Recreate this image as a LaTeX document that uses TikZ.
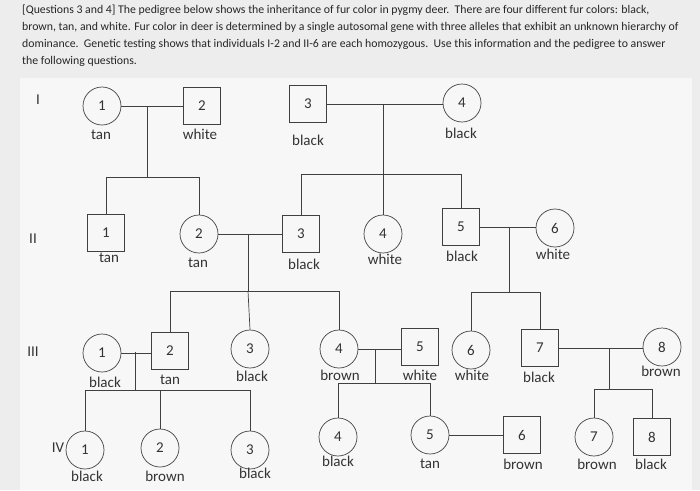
\documentclass[tikz,border=0pt]{standalone}
\usepackage{fontspec}
\setmainfont{Carlito}
\begin{document}
\begin{tikzpicture}[x=1pt,y=-1pt,
  ln/.style={draw=black!75,line width=0.7pt},
  fem/.style={circle,draw=black!75,line width=0.7pt,minimum size=38pt,inner sep=0pt,font=\fontsize{15}{15}\selectfont,text=black!80},
  mal/.style={rectangle,draw=black!75,line width=0.7pt,minimum size=37pt,inner sep=0pt,font=\fontsize{15}{15}\selectfont,text=black!80},
  lab/.style={font=\fontsize{15}{15}\selectfont,text=black!80,inner sep=0pt},
  gen/.style={font=\fontsize{15}{15}\selectfont,text=black!80,inner sep=0pt}]
\useasboundingbox (0,0) rectangle (700,490);
\fill[black!7] (0,0) rectangle (700,490);
\fill[black!3] (20,78) rectangle (692,490);
\node[anchor=north west,align=left,inner sep=0pt,font=\fontsize{11.8}{17}\selectfont,text=black!85] (txt) at (22,5)
{[Questions 3 and 4] The pedigree below shows the inheritance of fur color in pygmy deer.\ \ There are four different fur colors: black,\\
brown, tan, and white. Fur color in deer is determined by a single autosomal gene with three alleles that exhibit an unknown hierarchy of\\
dominance.\ \ Genetic testing shows that individuals I-2 and II-6 are each homozygous.\ \ Use this information and the pedigree to answer\\
the following questions.};
% generation labels
\node[gen] (gI) at (38,100) {I};
\node[gen] (gII) at (33,239) {II};
\node[gen] (gIII) at (33,352) {III};
\node[gen] (gIV) at (58,448) {IV};
% Gen I
\node[fem] (a1) at (102,106) {1};
\node[mal] (a2) at (202,106) {2};
\node[mal] (a3) at (308,104) {3};
\node[fem] (a4) at (462,103) {4};
\node[lab] at (101,135) {tan};
\node[lab] at (200,134) {white};
\node[lab] at (308,140) {black};
\node[lab] at (461,133) {black};
% Gen II
\node[mal] (b1) at (106,233) {1};
\node[fem] (b2) at (199,234) {2};
\node[mal] (b3) at (301,234) {3};
\node[fem] (b4) at (383,234) {4};
\node[mal] (b5) at (461,227) {5};
\node[fem] (b6) at (555,228) {6};
\node[lab] at (109,258) {tan};
\node[lab] at (198,263) {tan};
\node[lab] at (304,264) {black};
\node[lab] at (385,259) {white};
\node[lab] at (462,256) {black};
\node[lab] at (553,254) {white};
% Gen III
\node[fem] (c1) at (102,353) {1};
\node[mal] (c2) at (170,351) {2};
\node[fem] (c3) at (250,349) {3};
\node[fem] (c4) at (339,349) {4};
\node[mal] (c5) at (420,347) {5};
\node[fem] (c6) at (471,350) {6};
\node[mal] (c7) at (540,348) {7};
\node[fem] (c8) at (662,347) {8};
\node[lab] at (105,382) {black};
\node[lab] at (170,380) {tan};
\node[lab] at (252,376) {black};
\node[lab] at (340,375) {brown};
\node[lab] at (420,375) {white};
\node[lab] at (472,375) {white};
\node[lab] at (539,377) {black};
\node[lab] at (661,371) {brown};
% Gen IV
\node[fem] (d1) at (85,450) {1};
\node[fem] (d2) at (160,448) {2};
\node[fem] (d3) at (250,450) {3};
\node[fem] (d4) at (338,437) {4};
\node[fem] (d5) at (430,435) {5};
\node[mal] (d6) at (522,435) {6};
\node[fem] (d7) at (594,437) {7};
\node[mal] (d8) at (652,437) {8};
\node[lab] at (87,476) {black};
\node[lab] at (165,476) {brown};
\node[lab] at (255,473) {black};
\node[lab] at (338,461) {black};
\node[lab] at (430,464) {tan};
\node[lab] at (523,464) {brown};
\node[lab] at (597,464) {brown};
\node[lab] at (651,464) {black};
% I-1 x I-2
\draw[ln] (a1.east) -- (a2.west);
\coordinate (m12) at (147,106); \coordinate (s12) at (147,177);
\draw[ln] (m12) -- (s12);
\draw[ln] (s12) -| (b1.north); \draw[ln] (s12) -| (b2.north);
% I-3 x I-4
\draw[ln] (a3.east) -- (a3.east -| a4.west);
\coordinate (m34) at (383,104); \coordinate (s34) at (383,174);
\draw[ln] (m34) -- (s34);
\draw[ln] (s34) -| (b3.north); \draw[ln] (s34) -- (b4.north); \draw[ln] (s34) -| (b5.north);
% II-2 x II-3
\draw[ln] (b2.east) -- (b3.west);
\coordinate (m23) at (248,234); \coordinate (s23) at (248,291);
\draw[ln] (m23) -- (s23);
\draw[ln] (s23) -| (c2.north); \draw[ln] (s23) -- (c3.north); \draw[ln] (s23) -| (c4.north);
% II-5 x II-6
\draw[ln] (b5.east) -- (b5.east -| b6.west);
\coordinate (m56) at (509,227); \coordinate (s56) at (509,292);
\draw[ln] (m56) -- (s56);
\draw[ln] (s56) -| (c6.north); \draw[ln] (s56) -| (c7.north);
% III-1 x III-2
\draw[ln] (c1.east) -- (c1.east -| c2.west);
\coordinate (m3a) at (135,352); \coordinate (s3a) at (135,390);
\draw[ln] (m3a) -- (s3a);
\draw[ln] (s3a) -| (d1.north); \draw[ln] (s3a) -| (d2.north); \draw[ln] (s3a) -| (d3.north);
% III-4 x III-5
\draw[ln] (c4.east) -- (c4.east -| c5.west);
\coordinate (m3b) at (375,349); \coordinate (s3b) at (375,383);
\draw[ln] (m3b) -- (s3b);
\draw[ln] (s3b) -| (d4.north); \draw[ln] (s3b) -| (d5.north);
% III-7 x III-8
\draw[ln] (c7.east) -- (c7.east -| c8.west);
\coordinate (m3c) at (609,348); \coordinate (s3c) at (609,389);
\draw[ln] (m3c) -- (s3c);
\draw[ln] (s3c) -| (d7.north); \draw[ln] (s3c) -| (d8.north);
% IV-5 x IV-6
\draw[ln] (d5.east) -- (d5.east -| d6.west);
\end{tikzpicture}
\end{document}
